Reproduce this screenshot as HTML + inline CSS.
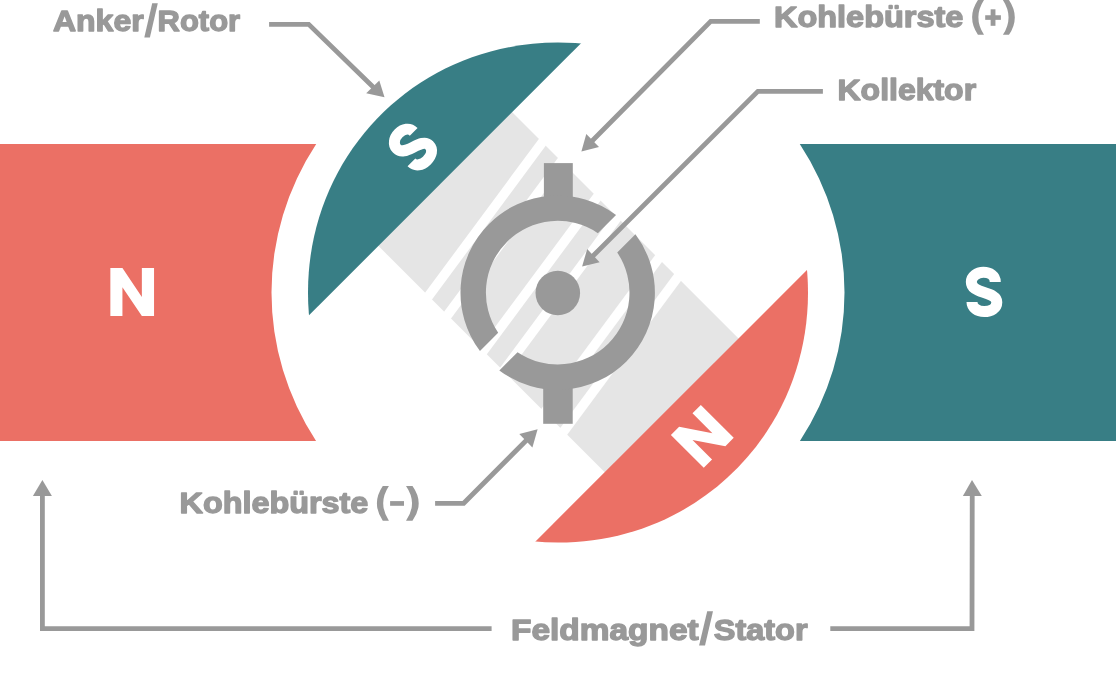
<!DOCTYPE html>
<html><head><meta charset="utf-8"><style>html,body{margin:0;padding:0;background:#ffffff;overflow:hidden}svg{display:block;will-change:transform}</style></head>
<body><svg width="1116" height="683" viewBox="0 0 1116 683"><path d="M0,144.0 L316.22,144.0 A286.5,277.0 0 0 0 316.08,441.0 L0,441.0 Z" fill="#eb7065"/>
<path d="M1116,144.0 L799.78,144.0 A286.5,277.0 0 0 1 799.92,441.0 L1116,441.0 Z" fill="#387e85"/>
<polygon points="367.79,235.32 501.57,101.54 749.06,349.03 615.28,482.81" fill="#e5e5e5"/>
<g fill="#ffffff"><polygon points="412.81,309.26 549.62,124.38 557.34,130.09 420.53,314.97"/><polygon points="431.83,328.28 568.64,143.40 576.36,149.11 439.55,333.99"/><polygon points="467.65,364.10 604.46,179.21 612.18,184.93 475.37,369.81"/><polygon points="487.81,384.26 624.62,199.38 632.34,205.09 495.53,389.97"/><polygon points="529.07,425.52 665.87,240.63 673.59,246.34 536.78,431.23"/><polygon points="548.01,444.46 684.82,259.58 692.54,265.29 555.73,450.17"/></g>
<defs><clipPath id="cs"><polygon points="656.99,-32.67 232.73,391.59 63.03,221.89 487.29,-202.37"/></clipPath><clipPath id="cn"><polygon points="883.27,193.61 459.01,617.87 628.71,787.57 1052.97,363.31"/></clipPath></defs>
<path d="M808.00,292.60 C808.00,432.55 697.95,542.60 558.00,542.60 C418.05,542.60 308.00,432.55 308.00,292.60 C308.00,152.65 418.05,42.60 558.00,42.60 C697.95,42.60 808.00,152.65 808.00,292.60 Z" fill="#387e85" clip-path="url(#cs)"/>
<path d="M808.00,292.60 C808.00,432.55 697.95,542.60 558.00,542.60 C418.05,542.60 308.00,432.55 308.00,292.60 C308.00,152.65 418.05,42.60 558.00,42.60 C697.95,42.60 808.00,152.65 808.00,292.60 Z" fill="#eb7065" clip-path="url(#cn)"/>
<rect x="543.9" y="163.1" width="28.9" height="45" fill="#999999"/>
<rect x="543.2" y="378" width="29.5" height="45.8" fill="#999999"/>
<path d="M616.06,214.92 A97.2,97.2 0 0 0 479.97,351.01 L498.18,332.80 A71.8,71.8 0 0 1 597.85,233.13 Z" fill="#999999"/>
<path d="M635.43,234.29 A97.2,97.2 0 0 1 499.34,370.38 L517.55,352.17 A71.8,71.8 0 0 0 617.22,252.50 Z" fill="#999999"/>
<circle cx="557.8" cy="293.0" r="22.3" fill="#999999"/>
<polyline points="269.10,24.40 308.70,24.40 376.49,90.17" fill="none" stroke="#999999" stroke-width="4.8" stroke-linejoin="miter" stroke-miterlimit="10"/><polygon points="384.50,97.30 379.30,80.40 366.20,93.30" fill="#999999"/>
<polyline points="759.80,21.30 710.70,21.30 589.07,143.94" fill="none" stroke="#999999" stroke-width="4.8" stroke-linejoin="miter" stroke-miterlimit="10"/><polygon points="581.40,151.40 586.30,134.00 599.00,146.90" fill="#999999"/>
<polyline points="822.90,91.40 757.90,91.40 589.82,259.09" fill="none" stroke="#999999" stroke-width="4.8" stroke-linejoin="miter" stroke-miterlimit="10"/><polygon points="582.10,266.60 587.20,249.00 599.60,262.20" fill="#999999"/>
<polyline points="435.10,503.30 463.70,503.30 529.42,437.24" fill="none" stroke="#999999" stroke-width="4.8" stroke-linejoin="miter" stroke-miterlimit="10"/><polygon points="537.60,429.20 519.30,434.00 532.40,447.50" fill="#999999"/>
<polyline points="491.60,628.70 42.40,628.70 42.40,491.10" fill="none" stroke="#999999" stroke-width="4.8" stroke-linejoin="miter" stroke-miterlimit="10"/><polygon points="42.40,480.00 32.90,496.10 51.90,496.10" fill="#999999"/>
<polyline points="830.30,628.70 972.00,628.70 972.24,491.10" fill="none" stroke="#999999" stroke-width="4.8" stroke-linejoin="miter" stroke-miterlimit="10"/><polygon points="972.00,480.00 962.90,496.10 981.80,496.10" fill="#999999"/>
<g font-family="Liberation Sans, sans-serif" font-weight="bold" fill="#999999" stroke="#999999" stroke-width="1.3" stroke-linejoin="round"><text x="52.95" y="31.1" textLength="90.73" lengthAdjust="spacingAndGlyphs" font-size="28.6">Anker</text><text x="157.58" y="31.1" textLength="82.54" lengthAdjust="spacingAndGlyphs" font-size="28.6">Rotor</text><text x="773.98" y="27.0" textLength="189.48" lengthAdjust="spacingAndGlyphs" font-size="28.6">Kohleburste</text><text x="837.51" y="100.3" textLength="138.62" lengthAdjust="spacingAndGlyphs" font-size="28.6">Kollektor</text><text x="179.59" y="513.3" textLength="188.77" lengthAdjust="spacingAndGlyphs" font-size="28.6">Kohleburste</text><text x="511.01" y="639.8" textLength="187.75" lengthAdjust="spacingAndGlyphs" font-size="28.6">Feldmagnet</text><text x="713.82" y="639.8" textLength="93.73" lengthAdjust="spacingAndGlyphs" font-size="28.6">Stator</text></g>
<polygon points="152.2,3.2 157.8,3.2 149.9,37.5 144.3,37.5" fill="#999999"/>
<polygon points="707.2,611.2 713.0,611.2 705.0,645.6 699.1,645.6" fill="#999999"/>
<rect x="888.4" y="4.8" width="4.5" height="4.5" rx="1.2" fill="#999999"/>
<rect x="894.4" y="4.8" width="4.5" height="4.5" rx="1.2" fill="#999999"/>
<rect x="293.4" y="490.6" width="4.5" height="4.5" rx="1.2" fill="#999999"/>
<rect x="299.4" y="490.6" width="4.5" height="4.5" rx="1.2" fill="#999999"/>
<path d="M977.93,0.0 Q966.27,17.40 977.93,34.80 L984.00,34.80 Q972.70,17.40 984.00,0.0 Z" fill="#999999"/>
<path d="M1008.97,0.0 Q1020.63,17.40 1008.97,34.80 L1002.90,34.80 Q1014.20,17.40 1002.90,0.0 Z" fill="#999999"/>
<rect x="985.2" y="15.25" width="15.7" height="4.6" fill="#999999"/><rect x="990.65" y="9.3" width="4.8" height="16.5" fill="#999999"/>
<path d="M382.78,486.0 Q371.02,503.35 382.78,520.70 L388.90,520.70 Q377.50,503.35 388.90,486.0 Z" fill="#999999"/>
<path d="M412.48,486.0 Q424.92,503.35 412.48,520.70 L406.00,520.70 Q418.06,503.35 406.00,486.0 Z" fill="#999999"/>
<rect x="390.1" y="501.1" width="13.9" height="4.7" fill="#999999"/>
<polygon points="110.36,267.95 122.43,267.95 141.86,297.03 141.86,267.95 154.04,267.95 154.04,315.90 141.86,315.90 122.43,287.37 122.43,315.90 110.36,315.90" fill="#ffffff"/>
<g transform="translate(702.3,436.4) rotate(-45) scale(0.97) translate(-132.20,-291.92)"><polygon points="110.36,267.95 122.43,267.95 141.86,297.03 141.86,267.95 154.04,267.95 154.04,315.90 141.86,315.90 122.43,287.37 122.43,315.90 110.36,315.90" fill="#ffffff"/></g>
<g transform="translate(983.95,291.95) rotate(0) scale(1.0)"><path d="M11.31,-10.06 C11.31,-16.1 6.04,-19.61 -0.54,-19.61 C-7.13,-19.61 -12.61,-15.55 -12.61,-10.06 C-12.61,-4.03 -7.13,-1.83 -0.54,0.36 C7.14,2.78 12.85,4.75 12.85,10.24 C12.85,16.27 7.14,19.57 0.23,19.57 C-6.58,19.57 -11.95,15.73 -11.95,10.02" fill="none" stroke="#ffffff" stroke-width="11" stroke-linecap="butt"/></g>
<g transform="translate(412.8,146.9) rotate(-45) scale(1.0)"><path d="M11.31,-10.06 C11.31,-16.1 6.04,-19.61 -0.54,-19.61 C-7.13,-19.61 -12.61,-15.55 -12.61,-10.06 C-12.61,-4.03 -7.13,-1.83 -0.54,0.36 C7.14,2.78 12.85,4.75 12.85,10.24 C12.85,16.27 7.14,19.57 0.23,19.57 C-6.58,19.57 -11.95,15.73 -11.95,10.02" fill="none" stroke="#ffffff" stroke-width="11" stroke-linecap="butt"/></g></svg></body></html>
